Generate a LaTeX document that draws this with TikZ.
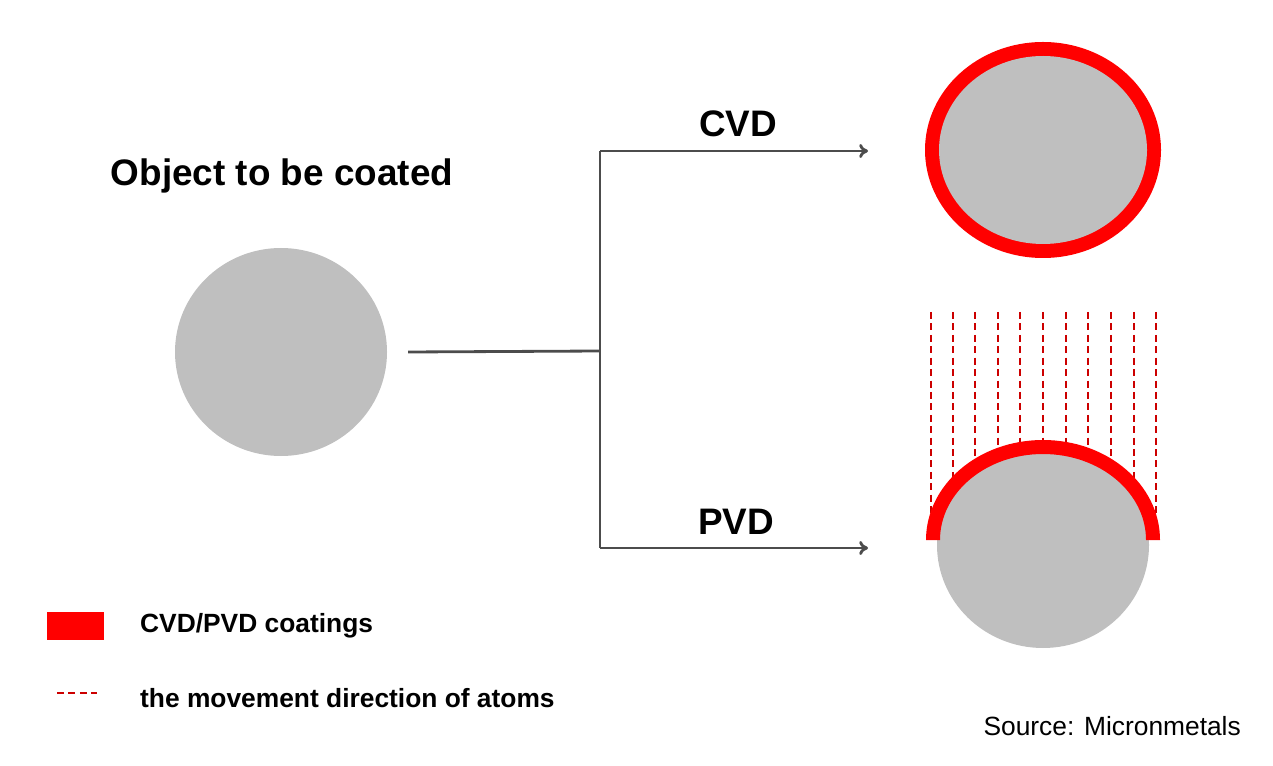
\documentclass[tikz,border=0pt]{standalone}
\usepackage{fontspec}
\setmainfont{Liberation Sans}
\usetikzlibrary{arrows.meta}
\begin{document}
\begin{tikzpicture}[x=0.02cm,y=-0.02cm,
  lbl/.style={font=\fontsize{21}{24}\selectfont\bfseries},
  leg/.style={font=\fontsize{15}{18}\selectfont\bfseries,anchor=west},
  conn/.style={draw=black!70,line width=1.6pt},
  atom/.style={draw=red!80!black,line width=1pt,dash pattern=on 4pt off 2.5pt}]
\definecolor{obj}{HTML}{BFBFBF}
\useasboundingbox (0,0) rectangle (1273,766);
\fill[obj] (281,352) ellipse [x radius=106,y radius=104];
\node[lbl] (title) at (282,176) {Object to be coated};
\coordinate (src) at (408,352);
\coordinate (j) at (600,351);
\coordinate (jt) at (600,151);
\coordinate (jb) at (600,548);
\coordinate (ct) at (868,151);
\coordinate (cb) at (868,548);
\draw[conn] (src) -- (j);
\draw[conn] (jt) -- (jb);
\draw[conn,-{To[length=5pt,width=8pt]}] (jt) -- (ct);
\draw[conn,-{To[length=5pt,width=8pt]}] (jb) -- (cb);
\node[lbl] (cvd) at (738,124) {CVD};
\node[lbl] (pvd) at (736,522) {PVD};
% CVD
\fill[red] (1043,150) ellipse [x radius=118,y radius=108];
\fill[obj] (1043,150) ellipse [x radius=104,y radius=94];
% PVD dashes
\foreach \x in {931,953,975,998,1020,1043,1066,1088,1111,1134,1156}{
  \pgfmathsetmacro{\yy}{540-100*sqrt(max(0,1-((\x-1043)/117)^2))+3}
  \draw[atom] (\x,312) -- (\x,\yy);
}
\fill[obj] (1043,545) ellipse [x radius=106,y radius=103];
\fill[red] (926,540) arc[start angle=180,end angle=360,x radius=117,y radius=100] -- (1146,540) arc[start angle=360,end angle=180,x radius=103,y radius=86] -- cycle;
% legend
\fill[red] (47,612) rectangle (104,640);
\node[leg] (l1) at (134,626) {CVD/PVD coatings};
\draw[atom] (57,693) -- (97,693);
\node[leg] (l2) at (134,698) {the movement direction of atoms};
\node[anchor=east,font=\fontsize{15}{18}\selectfont] (s) at (1247,726) {Source: Micronmetals};
\end{tikzpicture}
\end{document}
